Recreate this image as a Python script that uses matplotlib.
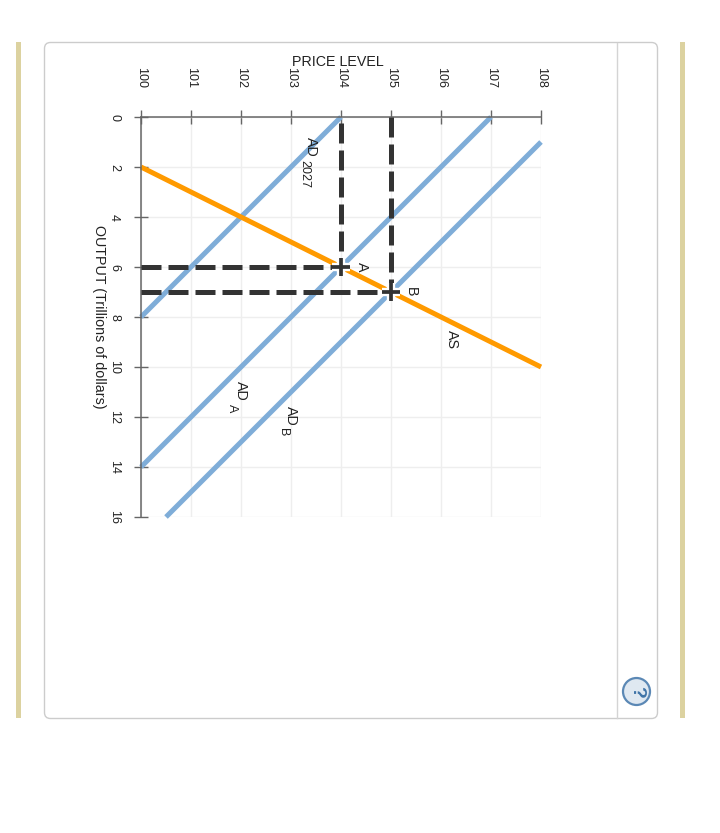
import matplotlib
matplotlib.use('Agg')
import matplotlib.pyplot as plt
from matplotlib.patches import FancyBboxPatch, Rectangle, Circle
import matplotlib.patheffects as pe

plt.rcParams['font.family'] = ['Liberation Sans', 'DejaVu Sans']

price_ticks = [100, 101, 102, 103, 104, 105, 106, 107, 108]
output_ticks = [0, 2, 4, 6, 8, 10, 12, 14, 16]

ad_2027_price = [100, 104]
ad_2027_output = [8, 0]
ad_a_price = [100, 107]
ad_a_output = [14, 0]
ad_b_price = [100.5, 108]
ad_b_output = [16, 1]
as_price = [100, 108]
as_output = [2, 10]

drop_a_price = [100, 104, 104]
drop_a_output = [6, 6, 0]
drop_b_price = [100, 105, 105]
drop_b_output = [7, 7, 0]
point_price = [104, 105]
point_output = [6, 7]

W, H = 720, 833
fig = plt.figure(figsize=(W / 100, H / 100), dpi=100)

# page furniture, in pixels
bg = fig.add_axes([0, 0, 1, 1])
bg.set_xlim(0, W)
bg.set_ylim(H, 0)
bg.axis('off')
bg.add_patch(Rectangle((16, 42), 5, 676, fc='#dcd2a0', ec='none'))
bg.add_patch(Rectangle((680, 42), 5, 676, fc='#dcd2a0', ec='none'))
bg.add_patch(FancyBboxPatch((49, 47), 603, 666, boxstyle='round,pad=0,rounding_size=0', fc='none', ec='none'))
bg.add_patch(FancyBboxPatch((44.5, 42.5), 613, 676, boxstyle='round,pad=0,rounding_size=6',
                            fc='white', ec='#cccccc', lw=1))
bg.plot([616.5, 616.5], [43, 718], color='#d4d4d4', lw=1)
bg.add_patch(Circle((636.5, 691.5), 13.5, fc='#dfe8f1', ec='#5b88b5', lw=1.6))
bg.text(636.5, 691.5, '?', rotation=270, ha='center', va='center', fontsize=14,
        fontweight='bold', color='#3f74a8')

# chart area: 100 -> 141 px, 108 -> 541 px, 0 -> 117 px, 16 -> 517 px
ax = fig.add_axes([141 / W, 1 - 517 / H, 400 / W, 400 / H])
ax.patch.set_alpha(0)
ax.set_xlim(100, 108)
ax.set_ylim(16, 0)
ax.set_xticks(price_ticks)
ax.set_yticks(output_ticks)
ax.xaxis.tick_top()
ax.xaxis.set_label_position('top')
ax.grid(color='#eeeeee', lw=1)
ax.set_axisbelow(True)
for side in ['right', 'bottom']:
    ax.spines[side].set_visible(False)
for side in ['left', 'top']:
    ax.spines[side].set_color('#666666')
    ax.spines[side].set_linewidth(1.1)
ax.tick_params(axis='both', direction='inout', length=10, width=1, color='#666666',
               labelsize=9, labelcolor='#222222')
ax.tick_params(axis='x', pad=16, labelrotation=270)
ax.tick_params(axis='y', pad=10, labelrotation=270)
for lab in ax.get_yticklabels():
    lab.set_va('center')
for lab in ax.get_xticklabels():
    lab.set_ha('center')

blue = '#7fadd8'
orange = '#ff9a00'
dark = '#333333'
ax.plot(ad_2027_price, ad_2027_output, color=blue, lw=3.6, solid_capstyle='butt', clip_on=False)
ax.plot(ad_a_price, ad_a_output, color=blue, lw=3.6, solid_capstyle='butt', clip_on=False)
ax.plot(ad_b_price, ad_b_output, color=blue, lw=3.6, solid_capstyle='butt', clip_on=False)
ax.plot(as_price, as_output, color=orange, lw=3.6, solid_capstyle='butt', clip_on=False)
halo = [pe.withStroke(linewidth=3.6 + 2, foreground='white')]
ax.plot(drop_a_price, drop_a_output, color=dark, lw=3.6, dashes=(4, 1.4), dash_capstyle='butt', zorder=4)
ax.plot(drop_b_price, drop_b_output, color=dark, lw=3.6, dashes=(4, 1.4), dash_capstyle='butt', zorder=4)
ax.plot(point_price, point_output, ls='none', marker='+', ms=13, mew=2.7, color=dark, zorder=6,
        path_effects=[pe.withStroke(linewidth=6, foreground='white')])

fig.text(337.5 / W, 1 - 61.5 / H, 'PRICE LEVEL', ha='center', va='center', fontsize=10.3, color='#222222')
fig.text(99 / W, 1 - 317 / H, 'OUTPUT (Trillions of dollars)', rotation=270, ha='center', va='center',
         fontsize=10.3, color='#222222')


def rot_label(px, py, text, size=10.3):
    fig.text(px / W, 1 - py / H, text, rotation=270, ha='center', va='center', fontsize=size, color='#222222')


rot_label(311, 147, 'AD')
rot_label(304, 174, '2027', 9)
rot_label(241, 391, 'AD')
rot_label(232, 408, 'A', 9)
rot_label(291, 416, 'AD')
rot_label(283, 432, 'B', 9)
rot_label(452, 340, 'AS')
rot_label(362, 267, 'A')
rot_label(411, 292, 'B')

fig.savefig('out.png', dpi=100)
